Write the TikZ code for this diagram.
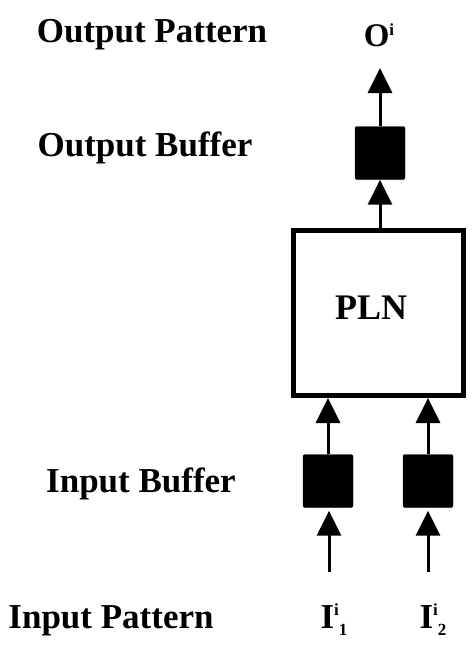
\documentclass[tikz,border=0pt]{standalone}
\usepackage{fontspec}
\setmainfont{Liberation Serif}
\usetikzlibrary{arrows.meta}
\newcommand{\scr}[1]{{\fontsize{17}{17}\selectfont #1}}
\newcommand{\supsub}[2]{\raisebox{13pt}{\scr{#1}}\raisebox{-7pt}{\scr{#2}}}
\begin{document}
\begin{tikzpicture}[x=1pt,y=-1pt,
  lbl/.style={font=\fontsize{35}{40}\selectfont\bfseries, inner sep=0pt},
  buf/.style={fill=black, draw=black, rounded corners=2pt, minimum width=50pt, minimum height=53pt, inner sep=0pt},
  arr/.style={line width=3pt, -{Triangle[width=24pt,length=25pt]}}
]
\useasboundingbox (0,0) rectangle (474,645);
% labels
\node[lbl] (lop) at (152,35) {Output Pattern};
\node[lbl] (lob) at (145,148) {Output Buffer};
\node[lbl] (lib) at (141,484) {Input Buffer};
\node[lbl] (lip) at (111,621) {Input Pattern};
\node[lbl, font=\fontsize{33}{38}\selectfont\bfseries] (Oi) at (379,35) {O\raisebox{11pt}{\scr{i}}};
\node[lbl] (I1) at (334,620) {I\supsub{i}{1}};
\node[lbl] (I2) at (433,620) {I\supsub{i}{2}};
% blocks
\node[draw, line width=5pt, minimum width=170pt, minimum height=165pt, inner sep=0pt] (pln) at (378,313) {};
\node[font=\fontsize{36}{40}\selectfont\bfseries, inner sep=0pt] (plnl) at (371,308) {PLN};
\node[buf] (ob) at (380,153) {};
\node[buf] (ib1) at (328,481) {};
\node[buf] (ib2) at (428,481) {};
% free ends
\coordinate (otip) at (380,68);
\coordinate (s1) at (329,572);
\coordinate (s2) at (428,572);
% connectors
\draw[arr] (ob.north) -- (otip);
\draw[arr] (pln.north -| ob) -- (ob.south);
\draw[arr] (ib1.north) -- (ib1.north |- pln.south);
\draw[arr] (ib2.north) -- (ib2.north |- pln.south);
\draw[arr, shorten >=3pt] (s1) -- (s1 |- ib1.south);
\draw[arr, shorten >=3pt] (s2) -- (s2 |- ib2.south);
\end{tikzpicture}
\end{document}
